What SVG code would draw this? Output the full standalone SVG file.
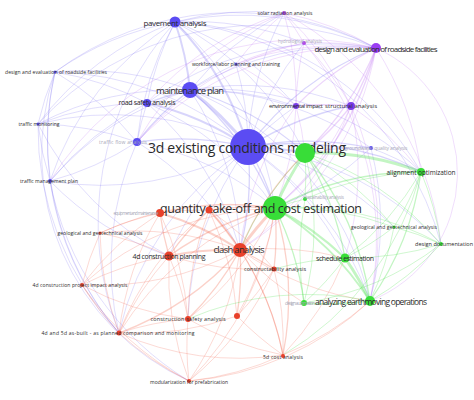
<svg xmlns="http://www.w3.org/2000/svg" width="474" height="400" viewBox="0 0 474 400">
<style>
path{fill:none;stroke-linecap:round}
.eb{stroke:#6a5cf0;stroke-opacity:.26}
.ep{stroke:#b45cf0;stroke-opacity:.26}
.er{stroke:#f0583e;stroke-opacity:.28}
.eg{stroke:#48e048;stroke-opacity:.33}
.w1{stroke-width:.8}.w2{stroke-width:1.3}.w3{stroke-width:2}.w4{stroke-width:3}
.nb{fill:#5b4cf3}.np{fill:#9b3ff2}.nm{fill:#7a3ce8}.nk{fill:#b04ae8}.ng{fill:#38dd38}.nr{fill:#e8402a}
text{font-family:"Open Sans","Liberation Sans",sans-serif;fill:#2a2a2a;text-anchor:middle;dominant-baseline:central}
.faint{fill:#a8a8b8}
</style>
<rect width="474" height="400" fill="#fff"/>
<g id="connectors">
<!-- blue -->
<path class="eb w4" d="M248,147 A300,300 0 0 0 190,90"/>
<path class="eb w3" d="M248,147 A300,300 0 0 0 175,22"/>
<path class="eb w3" d="M248,147 A300,300 0 0 0 147,103"/>
<path class="eb w2" d="M248,147 A300,300 0 0 0 137,142"/>
<path class="eb w1" d="M248,147 A300,300 0 0 0 55,72"/>
<path class="eb w1" d="M248,147 A300,300 0 0 0 38,124"/>
<path class="eb w1" d="M248,147 A300,300 0 0 1 50,181"/>
<path class="eb w1" d="M248,147 A300,300 0 0 0 236,64"/>
<path class="eb w2" d="M248,147 A300,300 0 0 1 371,148"/>
<path class="eb w3" d="M248,147 A300,300 0 0 1 305,153"/>
<path class="eb w2" d="M248,147 A300,300 0 0 1 275,208"/>
<path class="eb w2" d="M248,147 A300,300 0 0 1 421,172"/>
<path class="eb w1" d="M248,147 A300,300 0 0 1 345,258"/>
<path class="eb w1" d="M248,147 A300,300 0 0 1 370,301"/>
<path class="eb w2" d="M248,147 A300,300 0 0 1 240,250"/>
<path class="eb w1" d="M248,147 A300,300 0 0 0 169,256"/>
<path class="eb w2" d="M248,147 A300,300 0 0 1 376,48"/>
<path class="eb w2" d="M248,147 A300,300 0 0 1 351,106"/>
<path class="eb w1" d="M248,147 A300,300 0 0 1 296,106"/>
<path class="eb w1" d="M248,147 A300,300 0 0 1 284,13"/>
<path class="eb w1" d="M248,147 A300,300 0 0 1 304,43"/>
<path class="eb w1" d="M248,147 A300,300 0 0 0 188,319"/>
<path class="eb w1" d="M248,147 A300,300 0 0 0 119,333"/>
<path class="eb w1" d="M248,147 A300,300 0 0 1 441,244"/>
<path class="eb w1" d="M248,147 A300,300 0 0 1 394,227"/>
<path class="eb w3" d="M190,90 A300,300 0 0 0 175,22"/>
<path class="eb w2" d="M190,90 A300,300 0 0 0 147,103"/>
<path class="eb w2" d="M190,90 A300,300 0 0 0 137,142"/>
<path class="eb w1" d="M190,90 A300,300 0 0 0 55,72"/>
<path class="eb w1" d="M190,90 A300,300 0 0 0 38,124"/>
<path class="eb w1" d="M190,90 A300,300 0 0 0 50,181"/>
<path class="eb w1" d="M190,90 A300,300 0 0 1 236,64"/>
<path class="eb w1" d="M190,90 A300,300 0 0 1 376,48"/>
<path class="eb w1" d="M190,90 A300,300 0 0 1 351,106"/>
<path class="eb w1" d="M190,90 A300,300 0 0 1 296,106"/>
<path class="eb w2" d="M190,90 A300,300 0 0 1 275,208"/>
<path class="eb w1" d="M190,90 A300,300 0 0 1 240,250"/>
<path class="eb w2" d="M190,90 A300,300 0 0 1 305,153"/>
<path class="eb w1" d="M190,90 A300,300 0 0 1 371,148"/>
<path class="eb w1" d="M190,90 A300,300 0 0 1 284,13"/>
<path class="eb w1" d="M190,90 A300,300 0 0 1 421,172"/>
<path class="eb w1" d="M190,90 A300,300 0 0 1 370,301"/>
<path class="eb w1" d="M175,22 A300,300 0 0 0 147,103"/>
<path class="eb w1" d="M175,22 A300,300 0 0 0 137,142"/>
<path class="eb w1" d="M175,22 A300,300 0 0 0 55,72"/>
<path class="eb w1" d="M175,22 A300,300 0 0 0 38,124"/>
<path class="eb w1" d="M175,22 A300,300 0 0 0 50,181"/>
<path class="eb w1" d="M175,22 A300,300 0 0 1 376,48"/>
<path class="eb w1" d="M175,22 A300,300 0 0 1 284,13"/>
<path class="eb w1" d="M175,22 A300,300 0 0 1 304,43"/>
<path class="eb w1" d="M175,22 A300,300 0 0 1 296,106"/>
<path class="eb w1" d="M175,22 A300,300 0 0 1 275,208"/>
<path class="eb w1" d="M175,22 A300,300 0 0 1 305,153"/>
<path class="eb w1" d="M175,22 A300,300 0 0 1 421,172"/>
<path class="eb w1" d="M175,22 A300,300 0 0 0 119,333"/>
<path class="eb w1" d="M147,103 A300,300 0 0 0 137,142"/>
<path class="eb w1" d="M147,103 A300,300 0 0 0 55,72"/>
<path class="eb w1" d="M147,103 A300,300 0 0 0 38,124"/>
<path class="eb w1" d="M147,103 A300,300 0 0 0 50,181"/>
<path class="eb w1" d="M147,103 A300,300 0 0 1 275,208"/>
<path class="eb w1" d="M147,103 A300,300 0 0 1 240,250"/>
<path class="eb w1" d="M147,103 A300,300 0 0 1 376,48"/>
<path class="eb w1" d="M137,142 A300,300 0 0 0 38,124"/>
<path class="eb w1" d="M137,142 A300,300 0 0 1 50,181"/>
<path class="eb w1" d="M137,142 A300,300 0 0 0 55,72"/>
<path class="eb w1" d="M137,142 A300,300 0 0 1 275,208"/>
<path class="eb w1" d="M137,142 A300,300 0 0 1 240,250"/>
<path class="eb w1" d="M137,142 A300,300 0 0 0 119,333"/>
<path class="eb w1" d="M55,72 A300,300 0 0 0 38,124"/>
<path class="eb w1" d="M55,72 A300,300 0 0 0 50,181"/>
<path class="eb w1" d="M55,72 A300,300 0 0 1 376,48"/>
<path class="eb w1" d="M55,72 A300,300 0 0 0 119,333"/>
<path class="eb w1" d="M55,72 A250,250 0 0 0 189,381"/>
<path class="eb w1" d="M38,124 A300,300 0 0 0 50,181"/>
<path class="eb w1" d="M38,124 A300,300 0 0 0 169,256"/>
<path class="eb w1" d="M38,124 A300,300 0 0 0 119,333"/>
<path class="eb w1" d="M50,181 A300,300 0 0 0 169,256"/>
<path class="eb w1" d="M50,181 A300,300 0 0 0 119,333"/>
<path class="eb w1" d="M50,181 A300,300 0 0 0 189,381"/>
<path class="eb w1" d="M371,148 A300,300 0 0 1 421,172"/>
<path class="eb w1" d="M371,148 A300,300 0 0 1 275,208"/>
<path class="eb w1" d="M371,148 A300,300 0 0 0 305,153"/>
<path class="eb w1" d="M371,148 A300,300 0 0 1 370,301"/>
<path class="eb w1" d="M38,124 A300,300 0 0 1 376,48"/>
<path class="eb w1" d="M175,22 A300,300 0 0 1 441,244"/>
<!-- purple -->
<path class="ep w2" d="M376,48 A300,300 0 0 0 296,106"/>
<path class="ep w2" d="M376,48 A300,300 0 0 1 351,106"/>
<path class="ep w1" d="M376,48 A300,300 0 0 0 284,13"/>
<path class="ep w1" d="M376,48 A300,300 0 0 0 304,43"/>
<path class="ep w1" d="M376,48 A300,300 0 0 0 236,64"/>
<path class="ep w2" d="M376,48 A300,300 0 0 1 305,153"/>
<path class="ep w2" d="M376,48 A300,300 0 0 1 275,208"/>
<path class="ep w1" d="M376,48 A300,300 0 0 1 421,172"/>
<path class="ep w1" d="M376,48 A300,300 0 0 0 137,142"/>
<path class="ep w1" d="M376,48 A300,300 0 0 0 50,181"/>
<path class="ep w1" d="M376,48 A300,300 0 0 1 240,250"/>
<path class="ep w1" d="M376,48 A137,137 0 0 1 370,301"/>
<path class="ep w2" d="M351,106 A300,300 0 0 0 296,106"/>
<path class="ep w2" d="M351,106 A300,300 0 0 1 305,153"/>
<path class="ep w1" d="M351,106 A300,300 0 0 1 275,208"/>
<path class="ep w1" d="M351,106 A300,300 0 0 1 345,258"/>
<path class="ep w1" d="M351,106 A300,300 0 0 1 370,301"/>
<path class="ep w1" d="M351,106 A300,300 0 0 1 421,172"/>
<path class="ep w1" d="M351,106 A300,300 0 0 0 284,13"/>
<path class="ep w1" d="M351,106 A300,300 0 0 0 304,43"/>
<path class="ep w1" d="M351,106 A300,300 0 0 1 240,250"/>
<path class="ep w1" d="M296,106 A300,300 0 0 0 284,13"/>
<path class="ep w1" d="M296,106 A300,300 0 0 1 304,43"/>
<path class="ep w1" d="M296,106 A300,300 0 0 0 236,64"/>
<path class="ep w1" d="M296,106 A300,300 0 0 1 275,208"/>
<path class="ep w1" d="M296,106 A300,300 0 0 0 240,250"/>
<path class="ep w1" d="M296,106 A300,300 0 0 1 305,153"/>
<path class="ep w1" d="M284,13 A300,300 0 0 1 304,43"/>
<path class="ep w1" d="M284,13 A300,300 0 0 0 236,64"/>
<path class="ep w1" d="M284,13 A300,300 0 0 0 137,142"/>
<path class="ep w1" d="M284,13 A300,300 0 0 0 147,103"/>
<path class="ep w1" d="M304,43 A300,300 0 0 0 236,64"/>
<path class="ep w1" d="M304,43 A300,300 0 0 0 137,142"/>
<path class="ep w1" d="M284,13 A300,300 0 0 1 441,244"/>
<path class="ep w1" d="M304,43 A300,300 0 0 1 370,301"/>
<!-- red -->
<path class="er w4" d="M240,250 A300,300 0 0 1 275,208"/>
<path class="er w3" d="M240,250 A300,300 0 0 0 169,256"/>
<path class="er w3" d="M240,250 A300,300 0 0 0 160,213"/>
<path class="er w3" d="M240,250 A300,300 0 0 0 209,210"/>
<path class="er w2" d="M240,250 A300,300 0 0 1 274,269"/>
<path class="er w2" d="M240,250 A300,300 0 0 1 188,319"/>
<path class="er w2" d="M240,250 A300,300 0 0 1 237,316"/>
<path class="er w2" d="M240,250 A300,300 0 0 1 119,333"/>
<path class="er w2" d="M240,250 A300,300 0 0 1 283,355"/>
<path class="er w1" d="M240,250 A300,300 0 0 1 189,381"/>
<path class="er w1" d="M240,250 A300,300 0 0 1 82,285"/>
<path class="er w1" d="M240,250 A300,300 0 0 0 100,233"/>
<path class="er w1" d="M240,250 A300,300 0 0 1 345,258"/>
<path class="er w1" d="M240,250 A300,300 0 0 0 370,301"/>
<path class="er w1" d="M240,250 A300,300 0 0 0 304,303"/>
<path class="er w2" d="M240,250 A300,300 0 0 1 305,153"/>
<path class="er w2" d="M169,256 A300,300 0 0 1 160,213"/>
<path class="er w2" d="M169,256 A300,300 0 0 1 209,210"/>
<path class="er w1" d="M169,256 A300,300 0 0 0 100,233"/>
<path class="er w1" d="M169,256 A300,300 0 0 0 82,285"/>
<path class="er w1" d="M169,256 A300,300 0 0 1 188,319"/>
<path class="er w1" d="M169,256 A300,300 0 0 0 119,333"/>
<path class="er w1" d="M169,256 A300,300 0 0 0 189,381"/>
<path class="er w2" d="M169,256 A300,300 0 0 1 275,208"/>
<path class="er w1" d="M169,256 A300,300 0 0 0 274,269"/>
<path class="er w1" d="M160,213 A300,300 0 0 1 209,210"/>
<path class="er w1" d="M160,213 A300,300 0 0 0 100,233"/>
<path class="er w1" d="M160,213 A300,300 0 0 0 82,285"/>
<path class="er w1" d="M160,213 A300,300 0 0 1 275,208"/>
<path class="er w1" d="M160,213 A300,300 0 0 0 119,333"/>
<path class="er w1" d="M160,213 A300,300 0 0 1 188,319"/>
<path class="er w2" d="M209,210 A300,300 0 0 1 275,208"/>
<path class="er w1" d="M209,210 A300,300 0 0 1 274,269"/>
<path class="er w1" d="M209,210 A300,300 0 0 0 188,319"/>
<path class="er w1" d="M209,210 A300,300 0 0 1 237,316"/>
<path class="er w1" d="M209,210 A300,300 0 0 0 119,333"/>
<path class="er w1" d="M209,210 A300,300 0 0 1 283,355"/>
<path class="er w1" d="M100,233 A300,300 0 0 0 82,285"/>
<path class="er w1" d="M100,233 A300,300 0 0 0 119,333"/>
<path class="er w1" d="M100,233 A300,300 0 0 1 275,208"/>
<path class="er w1" d="M82,285 A300,300 0 0 0 119,333"/>
<path class="er w1" d="M82,285 A300,300 0 0 0 188,319"/>
<path class="er w1" d="M82,285 A300,300 0 0 0 189,381"/>
<path class="er w1" d="M82,285 A300,300 0 0 1 275,208"/>
<path class="er w2" d="M274,269 A300,300 0 0 0 275,208"/>
<path class="er w1" d="M274,269 A300,300 0 0 1 283,355"/>
<path class="er w1" d="M274,269 A300,300 0 0 1 189,381"/>
<path class="er w1" d="M274,269 A300,300 0 0 1 237,316"/>
<path class="er w1" d="M188,319 A300,300 0 0 0 119,333"/>
<path class="er w1" d="M188,319 A300,300 0 0 0 189,381"/>
<path class="er w1" d="M188,319 A300,300 0 0 0 283,355"/>
<path class="er w1" d="M188,319 A300,300 0 0 0 275,208"/>
<path class="er w1" d="M237,316 A300,300 0 0 0 283,355"/>
<path class="er w1" d="M237,316 A300,300 0 0 1 119,333"/>
<path class="er w1" d="M237,316 A300,300 0 0 0 275,208"/>
<path class="er w1" d="M119,333 A300,300 0 0 0 189,381"/>
<path class="er w1" d="M119,333 A300,300 0 0 1 275,208"/>
<path class="er w1" d="M119,333 A300,300 0 0 0 283,355"/>
<path class="er w2" d="M283,355 A300,300 0 0 0 275,208"/>
<path class="er w1" d="M283,355 A300,300 0 0 0 370,301"/>
<path class="er w1" d="M283,355 A300,300 0 0 0 345,258"/>
<path class="er w1" d="M189,381 A300,300 0 0 0 275,208"/>
<path class="er w1" d="M189,381 A300,300 0 0 0 283,355"/>
<path class="er w1" d="M189,381 A300,300 0 0 0 370,301"/>
<!-- green -->
<path class="eg w4" d="M305,153 A300,300 0 0 0 275,208"/>
<path class="eg w4" d="M305,153 A300,300 0 0 1 421,172"/>
<path class="eg w2" d="M305,153 A300,300 0 0 1 345,258"/>
<path class="eg w2" d="M305,153 A300,300 0 0 1 370,301"/>
<path class="eg w1" d="M305,153 A300,300 0 0 1 394,227"/>
<path class="eg w1" d="M305,153 A300,300 0 0 1 441,244"/>
<path class="eg w1" d="M305,153 A300,300 0 0 1 304,303"/>
<path class="eg w1" d="M305,153 A300,300 0 0 1 305,199"/>
<path class="eg w2" d="M275,208 A300,300 0 0 1 421,172"/>
<path class="eg w3" d="M275,208 A300,300 0 0 1 345,258"/>
<path class="eg w3" d="M275,208 A300,300 0 0 1 370,301"/>
<path class="eg w1" d="M275,208 A300,300 0 0 1 394,227"/>
<path class="eg w1" d="M275,208 A300,300 0 0 1 441,244"/>
<path class="eg w2" d="M275,208 A300,300 0 0 1 304,303"/>
<path class="eg w1" d="M275,208 A300,300 0 0 1 305,199"/>
<path class="eg w4" d="M345,258 A300,300 0 0 1 370,301"/>
<path class="eg w1" d="M345,258 A300,300 0 0 0 421,172"/>
<path class="eg w1" d="M345,258 A300,300 0 0 0 394,227"/>
<path class="eg w1" d="M345,258 A300,300 0 0 0 441,244"/>
<path class="eg w1" d="M345,258 A300,300 0 0 1 304,303"/>
<path class="eg w2" d="M370,301 A300,300 0 0 0 421,172"/>
<path class="eg w1" d="M370,301 A300,300 0 0 0 394,227"/>
<path class="eg w1" d="M370,301 A300,300 0 0 0 441,244"/>
<path class="eg w2" d="M370,301 A300,300 0 0 1 304,303"/>
<path class="eg w1" d="M421,172 A300,300 0 0 1 394,227"/>
<path class="eg w1" d="M421,172 A300,300 0 0 1 441,244"/>
<path class="eg w1" d="M421,172 A300,300 0 0 0 305,199"/>
<path class="eg w1" d="M394,227 A300,300 0 0 1 441,244"/>
<path class="eg w1" d="M304,303 A300,300 0 0 1 305,199"/>
<path class="eg w1" d="M441,244 A300,300 0 0 1 304,303"/>
<path class="eg w1" d="M421,172 A300,300 0 0 1 283,355"/>
<path class="eg w1" d="M305,153 A300,300 0 0 0 240,250"/>
<path class="eg w1" d="M345,258 A300,300 0 0 0 274,269"/>
<path class="eg w1" d="M370,301 A300,300 0 0 0 188,319"/>
</g>
<g id="n-3d-existing"><circle cx="248" cy="147" r="18" class="nb"/><text x="247" y="147" font-size="14" textLength="198">3d existing conditions modeling</text></g>
<g id="n-maintenance-plan"><circle cx="190" cy="90" r="8" class="nb"/><text x="190" y="90" font-size="9.5" textLength="68">maintenance plan</text></g>
<g id="n-pavement-analysis"><circle cx="175" cy="22" r="5.5" class="nb"/><text x="175" y="22" font-size="8" textLength="63">pavement analysis</text></g>
<g id="n-road-safety"><circle cx="147" cy="103" r="4" class="nb"/><text x="147" y="102" font-size="7" textLength="57">road safety analysis</text></g>
<g id="n-traffic-flow"><circle cx="137" cy="142" r="4" class="nb"/><text x="123" y="142" font-size="5" class="faint" textLength="48">traffic flow analysis</text></g>
<g id="n-design-eval-left"><circle cx="55" cy="72" r="1.5" class="nb"/><text x="56" y="72" font-size="5" textLength="102">design and evaluation of roadside facilities</text></g>
<g id="n-traffic-monitoring"><circle cx="38" cy="124" r="1.5" class="nb"/><text x="39" y="124" font-size="5" textLength="41">traffic monitoring</text></g>
<g id="n-traffic-management"><circle cx="50" cy="181" r="2" class="nb"/><text x="49" y="181" font-size="5" textLength="58">traffic management plan</text></g>
<g id="n-workforce"><circle cx="236" cy="64" r="1.5" class="nb"/><text x="236" y="64" font-size="5" textLength="88">workforce/labor planning and training</text></g>
<g id="n-solar"><circle cx="284" cy="13" r="2" class="nk"/><text x="285" y="13" font-size="5" textLength="55">solar radiation analysis</text></g>
<g id="n-hydrological"><circle cx="304" cy="43" r="2" class="nk"/><text x="300" y="40.5" font-size="4.5" class="faint" textLength="44">hydrological analysis</text></g>
<g id="n-design-eval-right"><circle cx="376" cy="48" r="5" class="np"/><text x="376" y="48" font-size="8" textLength="123">design and evaluation of roadside facilities</text></g>
<g id="n-environmental"><circle cx="296" cy="106" r="3" class="nm"/><text x="296" y="106" font-size="6" textLength="54">environmental impact</text></g>
<g id="n-structural"><circle cx="351" cy="106" r="4" class="nm"/><text x="351" y="106" font-size="6" textLength="52">structural analysis</text></g>
<g id="n-groundwater"><circle cx="371" cy="148" r="2" class="nb"/><text x="376" y="148" font-size="5" class="faint" textLength="63">groundwater quality analysis</text></g>
<g id="n-green-hub"><circle cx="305" cy="153" r="10" class="ng"/></g>
<g id="n-quantity"><circle cx="275" cy="208" r="12" class="ng"/><text x="261" y="208" font-size="12.5" textLength="202">quantity take-off and cost estimation</text></g>
<g id="n-alignment"><circle cx="421" cy="172" r="4" class="ng"/><text x="421" y="172" font-size="6.5" textLength="69">alignment optimization</text></g>
<g id="n-geological-right"><circle cx="394" cy="227" r="1.5" class="ng"/><text x="394" y="227" font-size="5" textLength="86">geological and geotechnical analysis</text></g>
<g id="n-design-doc"><circle cx="441" cy="244" r="2" class="ng"/><text x="444" y="244" font-size="5.5" textLength="58">design documentation</text></g>
<g id="n-schedule"><circle cx="345" cy="258" r="4.5" class="ng"/><text x="345" y="258" font-size="7" textLength="58">schedule estimation</text></g>
<g id="n-earthmoving"><circle cx="370" cy="301" r="5" class="ng"/><text x="371" y="301" font-size="8.5" textLength="112">analyzing earthmoving operations</text></g>
<g id="n-design-automation"><circle cx="304" cy="303" r="3" class="ng"/><text x="300" y="303" font-size="5" class="faint" textLength="30">design automation</text></g>
<g id="n-sustainability"><circle cx="305" cy="199" r="2" class="ng"/><text x="324" y="196.5" font-size="4.5" class="faint" textLength="40">sustainability analysis</text></g>
<g id="n-clash"><circle cx="240" cy="250" r="7" class="nr"/><text x="239" y="249" font-size="9.5" textLength="51">clash analysis</text></g>
<g id="n-4d-planning"><circle cx="169" cy="256" r="4.5" class="nr"/><text x="169" y="256" font-size="7" textLength="73">4d construction planning</text></g>
<g id="n-equipment"><circle cx="160" cy="213" r="4" class="nr"/><text x="136" y="213" font-size="4.5" class="faint" textLength="45">equipment and maintenance</text></g>
<g id="n-red-hub"><circle cx="209" cy="210" r="3.5" class="nr"/></g>
<g id="n-geological-left"><circle cx="100" cy="233" r="1.5" class="nr"/><text x="100" y="233" font-size="5" textLength="85">geological and geotechnical analysis</text></g>
<g id="n-4d-impact"><circle cx="82" cy="285" r="2" class="nr"/><text x="80" y="285" font-size="5" textLength="95">4d construction project impact analysis</text></g>
<g id="n-constructability"><circle cx="274" cy="269" r="2.5" class="nr"/><text x="275" y="269" font-size="5.5" textLength="62">constructability analysis</text></g>
<g id="n-construction-safety"><circle cx="188" cy="319" r="3" class="nr"/><text x="188" y="319" font-size="5.5" textLength="75">construction safety analysis</text></g>
<g id="n-red-small"><circle cx="237" cy="316" r="3" class="nr"/></g>
<g id="n-4d5d"><circle cx="119" cy="333" r="2.5" class="nr"/><text x="118" y="333" font-size="5" textLength="153">4d and 5d as-built - as planned comparison and monitoring</text></g>
<g id="n-5d-cost"><circle cx="283" cy="356" r="2" class="nr"/><text x="283" y="357" font-size="5" textLength="40">5d cost analysis</text></g>
<g id="n-modularization"><circle cx="189" cy="381" r="2" class="nr"/><text x="189" y="382" font-size="5" textLength="78">modularization for prefabrication</text></g>
</svg>
